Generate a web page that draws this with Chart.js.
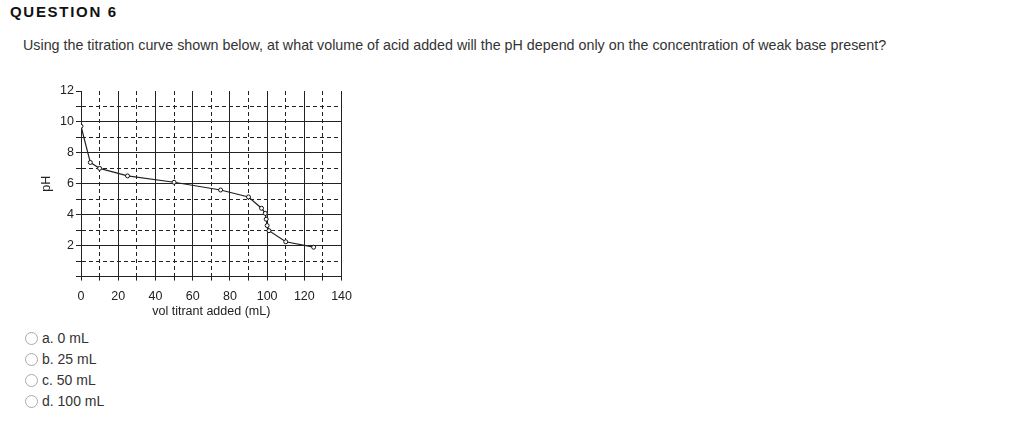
<!DOCTYPE html>
<html>
<head>
<meta charset="utf-8">
<script src="https://cdn.jsdelivr.net/npm/chart.js@4/dist/chart.umd.min.js"></script>
<style>
  body { margin: 0; background: #fff; font-family: Helvetica, Arial, "Liberation Sans", sans-serif; color: #333; }
  .abs { position: absolute; white-space: nowrap; }
  #title { left: 10px; top: 4px; font-weight: bold; font-size: 15px; letter-spacing: 1.7px; color: #111; line-height: 16px; }
  #question { left: 23px; top: 37px; font-size: 14.3px; line-height: 16px; }
  .opt { left: 25px; font-size: 14px; line-height: 16px; }
  .opt span.r { display: inline-block; width: 11px; height: 11px; border: 1px solid #aaa; border-radius: 50%; vertical-align: -2px; margin-right: 4px; background: #fff; }
  #wrap { position: absolute; left: 30px; top: 80px; width: 330px; height: 240px; }
</style>
</head>
<body>
<div id="title" class="abs">QUESTION 6</div>
<div id="question" class="abs">Using the titration curve shown below, at what volume of acid added will the pH depend only on the concentration of weak base present?</div>
<div class="abs opt" style="top:330px"><span class="r"></span>a. 0 mL</div>
<div class="abs opt" style="top:351px"><span class="r"></span>b. 25 mL</div>
<div class="abs opt" style="top:372px"><span class="r"></span>c. 50 mL</div>
<div class="abs opt" style="top:393px"><span class="r"></span>d. 100 mL</div>
<div id="wrap"><canvas id="chart" width="330" height="240"></canvas></div>

<script>
// titration curve
const volume = [0, 5, 10, 25, 50, 75, 90, 97, 99, 99.5, 100, 101, 110, 125]
const pH = [9.72, 7.38, 7.0, 6.51, 6.1, 5.6, 5.15, 4.42, 4.09, 3.71, 3.3, 2.97, 2.25, 1.9]

const xLabels = [0, 20, 40, 60, 80, 100, 120, 140]
const yLabels = [2, 4, 6, 8, 10, 12]

const tickFont = { family: 'Arial, "Liberation Sans", sans-serif', size: 12.5 }
const lineColor = '#222'

// dashed for the in-between lines, solid for the labelled ones
const dashFor = (labels) => (ctx) => (ctx.tick && !labels.includes(ctx.tick.value) ? [4, 3] : [])

new Chart(document.getElementById('chart'), {
  type: 'scatter',
  data: {
    datasets: [{
      data: volume.map((v, i) => ({ x: v, y: pH[i] })),
      showLine: true,
      borderColor: '#222',
      borderWidth: 1.2,
      tension: 0,
      pointRadius: 2,
      pointBackgroundColor: '#fff',
      pointBorderColor: '#111',
      pointBorderWidth: 1,
    }]
  },
  options: {
    responsive: false,
    animation: false,
    layout: { padding: { left: 0, right: 17, top: 11, bottom: 0 } },
    plugins: { legend: { display: false }, tooltip: { enabled: false } },
    scales: {
      x: {
        type: 'linear',
        min: 0, max: 140,
        afterFit: (s) => { s.height = 43.4 },
        ticks: {
          stepSize: 10, autoSkip: false, maxRotation: 0, padding: 8,
          color: '#222', font: tickFont,
          callback: (v) => (xLabels.includes(v) ? String(v) : ''),
        },
        grid: { color: lineColor, tickColor: lineColor, lineWidth: 1, tickLength: 4 },
        border: { color: '#222', dash: dashFor(xLabels) },
        title: { display: true, text: 'vol titrant added (mL)', color: '#222', font: tickFont, padding: { top: 0, bottom: 1 } },
      },
      y: {
        min: 0, max: 12,
        afterFit: (s) => { s.width = 51 },
        ticks: {
          stepSize: 1, autoSkip: false, padding: 2,
          color: '#222', font: tickFont,
          callback: (v) => (yLabels.includes(v) ? String(v) : ''),
        },
        grid: {
          color: (ctx) => (ctx.tick && ctx.tick.value === 12 ? 'rgba(0,0,0,0)' : lineColor),
          tickColor: lineColor, lineWidth: 1, tickLength: 5,
        },
        border: { color: '#222', dash: dashFor(yLabels) },
        title: { display: true, text: 'pH', color: '#222', font: tickFont, padding: { top: 9, bottom: 0 } },
      },
    },
  },
})
</script>
</body>
</html>
